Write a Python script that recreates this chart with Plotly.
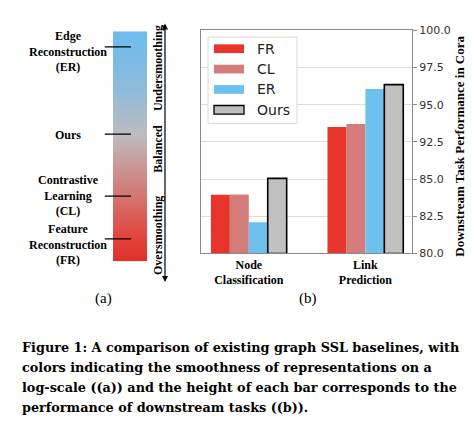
import numpy as np
import plotly.graph_objects as go

W, H = 474, 441

# ---------------- data ----------------
categories = ["Node<br>Classification", "Link<br>Prediction"]
methods = ["FR", "CL", "ER", "Ours"]
values = {
    "FR": [83.95, 93.5],
    "CL": [83.97, 93.7],
    "ER": [82.1, 96.05],
    "Ours": [85.15, 96.35],
}
tick_labels = ["80.0", "82.5", "85.0", "92.5", "95.0", "97.5", "100.0"]
tick_values = [80.0, 82.5, 85.0, 92.5, 95.0, 97.5, 100.0]
bar_colors = {"FR": "#e8342a", "CL": "#d47c79", "ER": "#6cc1ef", "Ours": "#c0c0c0"}

# smoothness position of each method on the gradient (0 = oversmoothing, 1 = undersmoothing)
smooth_methods = ["Edge<br>Reconstruction<br>(ER)", "Ours", "Contrastive<br>Learning<br>(CL)",
                  "Feature<br>Reconstruction<br>(FR)"]
smooth_pos = [0.932, 0.553, 0.283, 0.097]
smooth_labels = ["Undersmoothing", "Balanced", "Oversmoothing"]

caption_lines = [
    "Figure 1: A comparison of existing graph SSL baselines, with",
    "colors indicating the smoothness of representations on a",
    "log-scale ((a)) and the height of each bar corresponds to the",
    "performance of downstream tasks ((b)).",
]

def px(x):
    return x / W

def py(y):
    return 1 - y / H

# broken (piecewise) display scale of the reference axis
tick_pos = list(range(len(tick_values)))
def yscale(v):
    return np.interp(v, tick_values, tick_pos)

SERIF = "Liberation Serif"
SANS = "DejaVu Sans"

fig = go.Figure()

# ---------------- panel (b): bars ----------------
for m in methods:
    fig.add_trace(go.Bar(
        x=[0, 1], y=list(yscale(values[m])), name=m,
        marker=dict(color=bar_colors[m],
                    line=dict(color="black" if m == "Ours" else bar_colors[m],
                              width=1.6 if m == "Ours" else 0)),
        xaxis="x", yaxis="y", showlegend=False,
    ))

# ---------------- panel (a): gradient ----------------
fig.add_trace(go.Scatter(
    x=[0, 1, 1, 0, 0], y=[0, 0, 1, 1, 0], mode="lines", fill="toself",
    line=dict(width=0),
    fillgradient=dict(type="vertical",
                      colorscale=[[0, "#e2302a"], [0.12, "#e04840"], [0.3, "#d27a76"],
                                  [0.55, "#bdbcbf"], [0.75, "#8ebbdc"], [1, "#6bbcee"]]),
    xaxis="x2", yaxis="y2", showlegend=False, hoverinfo="skip",
))
for p in smooth_pos:
    fig.add_trace(go.Scatter(
        x=[-0.25, 0.53], y=[p, p], mode="lines", line=dict(color="black", width=1.2),
        xaxis="x2", yaxis="y2", showlegend=False, hoverinfo="skip",
    ))

fig.update_layout(
    width=W, height=H,
    margin=dict(l=0, r=0, t=0, b=0),
    paper_bgcolor="white", plot_bgcolor="white",
    barmode="group", bargap=0.35, bargroupgap=0,
    showlegend=False,
    xaxis=dict(domain=[px(201), px(412)], range=[-0.41, 1.40],
               tickvals=[0, 1], ticktext=["<b>%s</b>" % c for c in categories],
               tickfont=dict(family=SERIF, size=12, color="black"),
               ticks="", showgrid=False, zeroline=False,
               showline=True, linecolor="#8a8a8a", linewidth=1, mirror=True),
    yaxis=dict(domain=[py(255), py(25)], range=[0, 6], side="right",
               tickvals=tick_pos, ticktext=tick_labels,
               tickfont=dict(family=SANS, size=11, color="#333333"),
               ticks="outside", ticklen=4, tickcolor="#8a8a8a",
               showgrid=True, gridcolor="#dcdcdc", gridwidth=1, zeroline=False,
               showline=True, linecolor="#8a8a8a", linewidth=1, mirror=True),
    xaxis2=dict(domain=[px(104.5), px(147)], range=[-0.25, 1], visible=False),
    yaxis2=dict(domain=[py(263), py(26)], range=[0, 1], visible=False),
)

shapes = []
ann = []

# custom legend (wide swatches as in the reference)
shapes.append(dict(type="rect", xref="paper", yref="paper",
                   x0=px(208), x1=px(297), y0=py(121), y1=py(32),
                   line=dict(color="#d8d8d8", width=1), fillcolor="rgba(255,255,255,0.9)",
                   layer="above"))
for i, m in enumerate(methods):
    yc = 44 + 21 * i
    shapes.append(dict(type="rect", xref="paper", yref="paper",
                       x0=px(214), x1=px(244), y0=py(yc + 4.5), y1=py(yc - 4.5),
                       fillcolor=bar_colors[m],
                       line=dict(color="black" if m == "Ours" else bar_colors[m],
                                 width=1.3 if m == "Ours" else 0),
                       layer="above"))
    ann.append(dict(x=px(255), y=py(yc), xref="paper", yref="paper", text=m,
                    showarrow=False, xanchor="left", yanchor="middle",
                    font=dict(family=SANS, size=14, color="#222222")))

# panel (a) method labels
label_y = [47, 133, 195, 246]
for t, y in zip(smooth_methods, label_y):
    ann.append(dict(x=px(68), y=py(y), xref="paper", yref="paper", text="<b>%s</b>" % t,
                    showarrow=False, xanchor="center", yanchor="middle",
                    font=dict(family=SERIF, size=12, color="black")))
# smoothing regime labels
for t, y in zip(smooth_labels, [64, 147, 237]):
    ann.append(dict(x=px(158), y=py(y), xref="paper", yref="paper", text="<b>%s</b>" % t,
                    showarrow=False, textangle=-90, xanchor="center", yanchor="middle",
                    font=dict(family=SERIF, size=12, color="black")))
# double arrow
ann.append(dict(x=px(165), y=py(18), xref="paper", yref="paper", ax=0, ay=260,
                axref="pixel", ayref="pixel", text="", showarrow=True,
                arrowhead=2, startarrowhead=2, arrowside="end+start",
                arrowsize=1, arrowwidth=1.2, arrowcolor="black"))
# y axis title
ann.append(dict(x=px(460), y=py(145), xref="paper", yref="paper",
                text="<b>Downstream Task Performance in Cora</b>", showarrow=False,
                textangle=-90, xanchor="center", yanchor="middle",
                font=dict(family=SERIF, size=13, color="black")))
# subpanel labels
for t, x in zip(["(a)", "(b)"], [103, 308]):
    ann.append(dict(x=px(x), y=py(301), xref="paper", yref="paper", text=t, showarrow=False,
                    xanchor="center", yanchor="middle",
                    font=dict(family=SERIF, size=15, color="black")))
# caption
for i, line in enumerate(caption_lines):
    ann.append(dict(x=px(20), y=py(352 + 20.5 * i), xref="paper", yref="paper",
                    text="<b>%s</b>" % line, showarrow=False,
                    xanchor="left", yanchor="middle",
                    font=dict(family="DejaVu Serif", size=12.8, color="black")))

fig.update_layout(annotations=ann, shapes=shapes)
fig.write_html("out.html")
